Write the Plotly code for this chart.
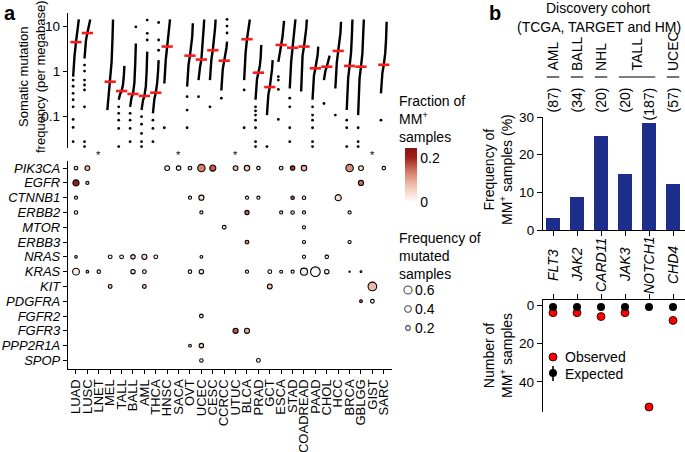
import math
import plotly.graph_objects as go

W, H = 685, 452
FONT = "Liberation Sans, Arial, Helvetica, sans-serif"
FS = 14
AFS = 13
TFS = 13.5

# ------------------------------------------------------------------ data
cancer_types = ["LUAD", "LUSC", "LNET", "MEL", "TALL", "BALL", "AML", "THCA", "HNSC", "SACA",
                "OVT", "UCEC", "CESC", "CCRCC", "UTUC", "BLCA", "PRAD", "GCT", "ESCA", "STAD",
                "COADREAD", "PAAD", "CHOL", "HCC", "BRCA", "GBLGG", "GIST", "SARC"]
genes = ["PIK3CA", "EGFR", "CTNNB1", "ERBB2", "MTOR", "ERBB3", "NRAS", "KRAS", "KIT",
         "PDGFRA", "FGFR2", "FGFR3", "PPP2R1A", "SPOP"]

# somatic mutation frequency (per Mb): sorted values read at these sample ranks
tmb_types = ["LUAD", "LUSC", "MEL", "TALL", "BALL", "AML", "THCA", "HNSC", "OVT", "UCEC", "CESC",
             "CCRCC", "BLCA", "PRAD", "GCT", "ESCA", "STAD", "COADREAD", "PAAD", "CHOL", "HCC",
             "BRCA", "GBLGG", "SARC"]
tmb_ranks = [0, 0.1, 0.25, 0.5, 0.75, 0.9, 1.0]
tmb_curve = [
    [0.75, 1.3, 2.2, 4.4, 8.5, 12, 14],
    [1.9, 3.0, 4.8, 7.0, 10, 12.5, 14],
    [0.135, 0.2, 0.35, 0.58, 1.6, 5, 14],
    [0.23, 0.27, 0.31, 0.36, 0.5, 0.8, 1.3],
    [0.16, 0.2, 0.26, 0.31, 0.55, 1.5, 4.1],
    [0.136, 0.17, 0.22, 0.28, 0.45, 1.0, 2.7],
    [0.115, 0.17, 0.24, 0.33, 0.55, 1.0, 1.75],
    [0.53, 1.0, 1.8, 3.5, 6.5, 10, 14],
    [0.45, 0.9, 1.4, 2.2, 3.6, 6, 11.5],
    [0.63, 0.9, 1.2, 1.8, 4, 9, 14],
    [0.63, 1.2, 1.8, 2.9, 5, 9, 14],
    [0.37, 0.7, 1.1, 1.7, 2.4, 3.3, 4.5],
    [0.63, 1.3, 2.5, 5.1, 9, 12, 14],
    [0.23, 0.45, 0.65, 0.92, 1.3, 2.0, 3.8],
    [0.105, 0.2, 0.3, 0.44, 0.7, 1.1, 1.75],
    [1.6, 2.0, 2.7, 3.8, 6, 9, 13],
    [0.41, 0.9, 1.6, 3.3, 7, 11, 14],
    [0.35, 1.2, 2.2, 3.5, 5.5, 9, 14],
    [0.23, 0.55, 0.8, 1.15, 1.6, 2.3, 3.5],
    [0.63, 0.8, 1.0, 1.25, 1.6, 1.9, 2.2],
    [0.41, 0.9, 1.5, 2.8, 4.5, 7, 12.5],
    [0.136, 0.35, 0.7, 1.3, 2.5, 6, 14],
    [0.105, 0.3, 0.7, 1.25, 2.5, 7, 14],
    [0.32, 0.6, 0.9, 1.38, 2.5, 5, 12.5],
]
tmb_low = [
    [0.63, 0.46, 0.32, 0.23, 0.16, 0.084, 0.056, 0.027],
    [1.36, 1.0, 0.63, 0.49, 0.38, 0.16, 0.027, 0.021],
    [],
    [0.16, 0.115, 0.081, 0.053, 0.021],
    [0.115, 0.081, 0.053, 0.027],
    [0.097, 0.066, 0.041, 0.027, 0.021],
    [0.081, 0.053, 0.027],
    [0.055],
    [0.27, 0.136, 0.055],
    [0.27],
    [0.16],
    [0.25],
    [0.38, 0.055],
    [0.16, 0.13, 0.105, 0.081, 0.055, 0.027, 0.021],
    [0.021],
    [0.75, 0.63, 0.39, 0.084],
    [0.25, 0.16, 0.055, 0.027],
    [],
    [0.16, 0.105, 0.081, 0.055, 0.027, 0.021],
    [0.19],
    [0.105],
    [0.081, 0.055, 0.021],
    [0.055, 0.027, 0.021],
    [0.081],
]
tmb_high = [[], [], [], [], [9.6], [4.9, 6.9, 13.6], [2.9, 4.9, 12], [], [], [], [],
            [7, 10, 14], [], [], [], [], [], [], [], [], [], [], [], []]
tmb_median = [4.4, 7.0, 0.58, 0.36, 0.31, 0.28, 0.33, 3.5, 2.2, 1.8, 2.9, 1.7, 5.1, 0.92,
              0.44, 3.8, 3.3, 3.5, 1.15, 1.25, 2.8, 1.3, 1.25, 1.38]
tmb_missing = ["LNET", "SACA", "UTUC", "GIST"]

# mutated-gene matrix
mut_gene = (["PIK3CA"] * 16 + ["EGFR"] * 3 + ["CTNNB1"] * 8 + ["ERBB2"] * 7 + ["MTOR"] * 2 +
            ["ERBB3"] * 3 + ["NRAS"] * 9 + ["KRAS"] * 16 + ["KIT"] * 4 + ["PDGFRA"] * 2 +
            ["FGFR2"] + ["FGFR3"] * 2 + ["PPP2R1A"] * 2 + ["SPOP"] * 2)
mut_type = ["LUAD", "LUSC", "HNSC", "SACA", "OVT", "UCEC", "CESC", "UTUC", "BLCA", "PRAD", "ESCA",
            "STAD", "COADREAD", "BRCA", "GBLGG", "SARC",
            "LUAD", "LUSC", "GBLGG",
            "LUAD", "OVT", "UCEC", "BLCA", "PRAD", "STAD", "COADREAD", "HCC",
            "LUAD", "UCEC", "BLCA", "ESCA", "STAD", "COADREAD", "BRCA",
            "CCRCC", "COADREAD",
            "BLCA", "COADREAD", "BRCA",
            "LUAD", "MEL", "TALL", "BALL", "AML", "THCA", "UCEC", "COADREAD", "CHOL",
            "LUAD", "LUSC", "LNET", "BALL", "AML", "OVT", "UCEC", "BLCA", "GCT", "ESCA", "STAD",
            "COADREAD", "PAAD", "CHOL", "BRCA", "GBLGG",
            "MEL", "AML", "GCT", "GIST",
            "GBLGG", "GIST",
            "UCEC",
            "UTUC", "BLCA",
            "OVT", "UCEC",
            "UCEC", "PRAD"]
mut_freq = [0.13, 0.21, 0.21, 0.18, 0.13, 0.5, 0.34, 0.21, 0.27, 0.11, 0.13, 0.18, 0.27, 0.5, 0.21, 0.11,
            0.34, 0.09, 0.24,
            0.09, 0.09, 0.24, 0.09, 0.09, 0.11, 0.11, 0.34,
            0.11, 0.09, 0.16, 0.09, 0.11, 0.09, 0.09,
            0.13, 0.09,
            0.13, 0.09, 0.09,
            0.06, 0.13, 0.13, 0.18, 0.24, 0.13, 0.07, 0.09, 0.11,
            0.42, 0.06, 0.11, 0.18, 0.13, 0.11, 0.18, 0.09, 0.13, 0.08, 0.09, 0.46, 0.84, 0.18,
            0.016, 0.03,
            0.13, 0.13, 0.21, 0.68,
            0.07, 0.13,
            0.13,
            0.24, 0.24,
            0.07, 0.18,
            0.11, 0.13]
mut_frac = [0.06, 0.08, 0.03, 0.0, 0.06, 0.13, 0.16, 0.08, 0.06, 0.01, 0.05, 0.18, 0.08, 0.12, 0.04, 0.0,
            0.22, 0.1, 0.15,
            0.03, 0.02, 0.04, 0.0, 0.0, 0.17, 0.02, 0.04,
            0.02, 0.02, 0.15, 0.03, 0.06, 0.01, 0.0,
            0.01, 0.0,
            0.13, 0.0, 0.0,
            0.03, 0.0, 0.0, 0.05, 0.05, 0.0, 0.03, 0.0, 0.0,
            0.02, 0.03, 0.0, 0.04, 0.03, 0.0, 0.02, 0.0, 0.0, 0.0, 0.0, 0.02, 0.0, 0.0, 0.05, 0.05,
            0.07, 0.07, 0.07, 0.08,
            0.14, 0.0,
            0.06,
            0.16, 0.09,
            0.05, 0.06,
            0.0, 0.0]
size_legend = [0.6, 0.4, 0.2]
frac_ticks = [0, 0.2]

# panel b
mm_genes = ["FLT3", "JAK2", "CARD11", "JAK3", "NOTCH1", "CHD4"]
mm_groups = ["AML", "BALL", "NHL", "TALL", "TALL", "UCEC"]
mm_n = [87, 34, 20, 20, 187, 57]
mm_freq = [3.3, 8.7, 25.0, 14.9, 28.4, 12.2]
mm_observed = [4, 4, 6, 4, 53, 8]
mm_expected = [1, 1, 1, 1, 1, 1]

# ------------------------------------------------------------------ helpers
def px(p):
    return p / W


def py(p):
    return 1 - p / H


def bubble(f):
    return 10.5 * math.sqrt(f)


HALF = 0.25
BLUE = "#1d2d8c"
COLORSCALE = [[0, "#ffffff"], [0.04, "#fdf3ef"], [0.2, "#f5d6ca"], [0.4, "#e7a994"],
              [0.6, "#cf6e5a"], [0.82, "#9e2119"], [1, "#851410"]]
CMAX = 0.245

fig = go.Figure()

# ---- panel a, top: mutation frequency
cx, cy = [], []
lx, ly = [], []
for t, curve, low, high in zip(tmb_types, tmb_curve, tmb_low, tmb_high):
    c = cancer_types.index(t)
    for r, v in zip(tmb_ranks, curve):
        cx.append(c - HALF + 2 * HALF * r)
        cy.append(v)
    cx.append(None)
    cy.append(None)
    for v in low:
        lx.append(c - HALF)
        ly.append(v)
    for v in high:
        lx.append(c + HALF)
        ly.append(v)

fig.add_trace(go.Scatter(x=cx, y=cy, mode="lines", line=dict(color="black", width=2.4),
                         xaxis="x", yaxis="y", hoverinfo="skip", showlegend=False))
fig.add_trace(go.Scatter(x=lx, y=ly, mode="markers", marker=dict(color="black", size=2.8),
                         xaxis="x", yaxis="y", hoverinfo="skip", showlegend=False))
fig.add_trace(go.Scatter(x=[cancer_types.index(t) for t in tmb_types], y=tmb_median, mode="markers",
                         marker=dict(symbol="line-ew", size=8, line=dict(color="#ff1a1a", width=2.6)),
                         xaxis="x", yaxis="y", hoverinfo="skip", showlegend=False))

# ---- panel a, bottom: bubble matrix
fig.add_trace(go.Scatter(
    x=[cancer_types.index(t) for t in mut_type], y=[genes.index(g) for g in mut_gene],
    mode="markers", xaxis="x2", yaxis="y2", showlegend=False, hoverinfo="skip",
    marker=dict(size=[bubble(f) for f in mut_freq], color=mut_frac, colorscale=COLORSCALE,
                cmin=0, cmax=CMAX, line=dict(color="black", width=1.1), opacity=1,
                colorbar=dict(x=px(405), xanchor="left", y=py(175), yanchor="middle",
                              len=54, lenmode="pixels", thickness=12, thicknessmode="pixels",
                              tickvals=frac_ticks, ticktext=["0", "0.2"], ticks="",
                              outlinewidth=0, xpad=0, ypad=0,
                              tickfont=dict(family=FONT, size=FS, color="black"))),
))

# ---- panel b: bar chart
fig.add_trace(go.Bar(x=list(range(len(mm_genes))), y=mm_freq, width=0.58,
                     marker=dict(color=BLUE, line=dict(width=0)), xaxis="x3", yaxis="y3",
                     showlegend=False, hoverinfo="skip"))

# ---- panel b: observed / expected
fig.add_trace(go.Scatter(x=list(range(len(mm_genes))), y=mm_observed, mode="markers",
                         marker=dict(color="#ff0000", size=8, line=dict(color="black", width=0.8)),
                         xaxis="x4", yaxis="y4", showlegend=False, hoverinfo="skip", cliponaxis=False))
fig.add_trace(go.Scatter(x=list(range(len(mm_genes))), y=mm_expected, mode="markers",
                         marker=dict(color="black", size=8),
                         xaxis="x4", yaxis="y4", showlegend=False, hoverinfo="skip", cliponaxis=False))

# ---- legend glyphs on a pixel overlay axis
fig.add_trace(go.Scatter(x=[408] * 3, y=[290, 309, 328], mode="markers",
                         marker=dict(size=[bubble(f) for f in size_legend], color="white",
                                     line=dict(color="black", width=1.1)),
                         xaxis="x5", yaxis="y5", showlegend=False, hoverinfo="skip", cliponaxis=False))
fig.add_trace(go.Scatter(x=[553], y=[357], mode="markers",
                         marker=dict(size=8, color="#ff0000", line=dict(color="black", width=0.8)),
                         xaxis="x5", yaxis="y5", showlegend=False, hoverinfo="skip", cliponaxis=False))
fig.add_trace(go.Scatter(x=[553, 553], y=[366, 381], mode="lines", line=dict(color="black", width=1.6),
                         xaxis="x5", yaxis="y5", showlegend=False, hoverinfo="skip", cliponaxis=False))
fig.add_trace(go.Scatter(x=[553], y=[373], mode="markers", marker=dict(size=8, color="black"),
                         xaxis="x5", yaxis="y5", showlegend=False, hoverinfo="skip", cliponaxis=False))

# ------------------------------------------------------------------ annotations
ann = []


def text(x, y, s, size=FS, xanchor="center", yanchor="middle", angle=0, align="center",
         xref="paper", bold=False):
    ann.append(dict(x=x, y=y, xref=xref, yref="paper", text=("<b>%s</b>" % s) if bold else s,
                    showarrow=False, xanchor=xanchor, yanchor=yanchor, textangle=angle,
                    align=align, font=dict(family=FONT, size=size, color="black")))


text(px(2), py(0), "a", size=20, xanchor="left", yanchor="top", bold=True)
text(px(487), py(0), "b", size=20, xanchor="left", yanchor="top", bold=True)
text(px(32), py(77), "Somatic mutation<br>frequency (per megabase)", size=AFS, angle=-90)
for t in tmb_missing:
    text(cancer_types.index(t), py(155), "*", size=11, xref="x")

text(px(397), py(91), "Fraction of<br>MM<sup>+</sup><br>samples", xanchor="left", yanchor="top",
     align="left")
text(px(397), py(228), "Frequency of<br>mutated<br>samples", xanchor="left", yanchor="top",
     align="left")
for f, yy in zip(size_legend, [290, 309, 328]):
    text(px(413), py(yy), "%.1f" % f, xanchor="left")

text(px(598), py(8), "Discovery cohort")
text(px(599), py(27), "(TCGA, TARGET and HM)")

shapes = []
groups = []
for i, g in enumerate(mm_groups):
    if groups and groups[-1][0] == g:
        groups[-1][1].append(i)
    else:
        groups.append([g, [i]])
for g, idx in groups:
    cxg = sum(idx) / len(idx)
    text(cxg, py(73), g, angle=-90, xanchor="center", yanchor="bottom", xref="x3")
    shapes.append(dict(type="line", xref="x3", yref="paper", x0=min(idx) - 0.26, x1=max(idx) + 0.26,
                       y0=py(77), y1=py(77), line=dict(color="black", width=1.1)))
for i, n in enumerate(mm_n):
    text(i, py(86), "(%d)" % n, angle=-90, xanchor="center", yanchor="top", xref="x3")
for i, g in enumerate(mm_genes):
    text(i, py(265), "<i>%s</i>" % g, angle=-90, xref="x3")

text(px(498), py(170), "Frequency of<br>MM<sup>+</sup> samples (%)", angle=-90)
text(px(498), py(356), "Number of<br>MM<sup>+</sup> samples", angle=-90)
text(px(563), py(357), "Observed", xanchor="left")
text(px(563), py(374), "Expected", xanchor="left")

# ------------------------------------------------------------------ axes
axis_common = dict(showgrid=False, zeroline=False, showline=True, linecolor="black", linewidth=1.3,
                   ticks="outside", ticklen=4, tickwidth=1.2, tickcolor="black", automargin=False,
                   tickfont=dict(family=FONT, size=TFS, color="black"))
top_xrange = [-0.7, 27.72]

fig.update_layout(
    width=W, height=H, margin=dict(l=0, r=0, t=0, b=0, pad=0, autoexpand=False), template="none",
    paper_bgcolor="white", plot_bgcolor="rgba(0,0,0,0)", showlegend=False,
    font=dict(family=FONT, size=FS, color="black"),
    xaxis=dict(domain=[px(68), px(392)], range=top_xrange, visible=False, anchor="y"),
    yaxis=dict(axis_common, domain=[py(148), py(13)], type="log", range=[-1.71, 1.29],
               tickvals=[0.1, 1, 10], ticktext=["0.1", "1", "10"], anchor="x"),
    xaxis2=dict(axis_common, domain=[px(68), px(392)], range=top_xrange, anchor="y2",
                tickvals=list(range(len(cancer_types))), ticktext=cancer_types, tickangle=-90,
                tickfont=dict(family=FONT, size=AFS, color="black")),
    yaxis2=dict(axis_common, domain=[py(369), py(161)], range=[13.58, -0.48], anchor="x2",
                tickvals=list(range(len(genes))), ticktext=["<i>%s</i>" % g for g in genes],
                tickfont=dict(family=FONT, size=AFS, color="black")),
    xaxis3=dict(axis_common, domain=[px(543), 1], range=[-0.417, 5.5], anchor="y3",
                tickvals=list(range(len(mm_genes))), showticklabels=False, ticklen=5),
    yaxis3=dict(axis_common, domain=[py(230), py(117)], range=[0, 30], anchor="x3",
                tickvals=[0, 10, 20, 30], ticklen=5),
    xaxis4=dict(axis_common, domain=[px(543), 1], range=[-0.417, 5.5], anchor="y4", side="top",
                tickvals=list(range(len(mm_genes))), showticklabels=False, ticklen=5),
    yaxis4=dict(axis_common, domain=[py(412), py(300)], range=[55.6, -2.6], anchor="x4",
                tickvals=[0, 20, 40], ticklen=5),
    xaxis5=dict(domain=[0, 1], range=[0, W], visible=False, anchor="y5", fixedrange=True),
    yaxis5=dict(domain=[0, 1], range=[H, 0], visible=False, anchor="x5", fixedrange=True),
    annotations=ann, shapes=shapes, bargap=0,
)

fig.write_html("out.html", include_plotlyjs=True, config={"displayModeBar": False},
               post_script="document.body.style.margin='0px';document.body.style.overflow='hidden';")
